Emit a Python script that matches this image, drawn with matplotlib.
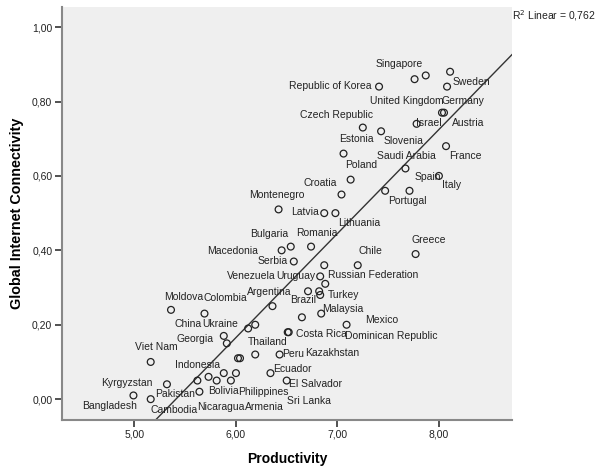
import matplotlib
matplotlib.use("Agg")
import matplotlib.pyplot as plt
import numpy as np

plt.rcParams['font.family'] = ['Liberation Sans', 'DejaVu Sans']

# point values
productivity = [7.41, 7.76, 7.87, 8.11, 8.08, 8.03, 8.05, 7.78, 7.25, 7.43,
                8.07, 7.06, 7.67, 8.00, 7.13, 7.04, 7.47, 7.71, 6.42, 6.87,
                6.98, 6.54, 6.74, 6.45, 6.57, 7.77, 6.87, 7.20, 6.83, 6.88,
                6.71, 6.82, 6.83, 6.36, 5.36, 5.69, 6.84, 6.65, 7.09, 6.12,
                6.19, 6.51, 6.52, 5.88, 5.91, 5.16, 6.02, 6.04, 6.19, 6.43,
                6.34, 6.50, 5.32, 4.99, 5.16, 5.62, 5.64, 5.73, 5.81, 5.88,
                5.95, 6.00]
connectivity = [0.84, 0.86, 0.87, 0.88, 0.84, 0.77, 0.77, 0.74, 0.73, 0.72,
                0.68, 0.66, 0.62, 0.60, 0.59, 0.55, 0.56, 0.56, 0.51, 0.50,
                0.50, 0.41, 0.41, 0.40, 0.37, 0.39, 0.36, 0.36, 0.33, 0.31,
                0.29, 0.29, 0.28, 0.25, 0.24, 0.23, 0.23, 0.22, 0.20, 0.19,
                0.20, 0.18, 0.18, 0.17, 0.15, 0.10, 0.11, 0.11, 0.12, 0.12,
                0.07, 0.05, 0.04, 0.01, 0.00, 0.05, 0.02, 0.06, 0.05, 0.07,
                0.05, 0.07]

# country labels and where they sit on the chart
label_names = ['Singapore', 'Republic of Korea', 'United Kingdom', 'Germany', 'Sweden',
               'Czech Republic', 'Israel', 'Austria', 'Estonia', 'Slovenia',
               'Saudi Arabia', 'France', 'Poland', 'Spain', 'Italy', 'Croatia',
               'Portugal', 'Montenegro', 'Latvia', 'Lithuania', 'Bulgaria', 'Romania',
               'Greece', 'Macedonia', 'Serbia', 'Chile', 'Venezuela', 'Uruguay',
               'Russian Federation', 'Moldova', 'Colombia', 'Argentina', 'Brazil',
               'Turkey', 'Malaysia', 'Mexico', 'China', 'Ukraine', 'Georgia',
               'Costa Rica', 'Dominican Republic', 'Thailand', 'Viet Nam', 'Peru',
               'Kazakhstan', 'Indonesia', 'Ecuador', 'Kyrgyzstan', 'El Salvador',
               'Pakistan', 'Bolivia', 'Philippines', 'Sri Lanka', 'Bangladesh',
               'Cambodia', 'Nicaragua', 'Armenia']
label_pos = [(7.609, 0.901), (6.926, 0.841), (7.680, 0.802), (8.236, 0.802), (8.322, 0.853),
             (6.992, 0.763), (7.904, 0.741), (8.289, 0.741), (7.189, 0.698), (7.648, 0.694),
             (7.682, 0.654), (8.256, 0.654), (7.238, 0.629), (7.895, 0.596), (8.125, 0.575),
             (6.834, 0.581), (7.688, 0.532), (6.401, 0.548), (6.683, 0.503), (7.215, 0.474),
             (6.325, 0.443), (6.795, 0.447), (7.901, 0.427), (5.967, 0.398), (6.362, 0.372),
             (7.327, 0.398), (6.155, 0.330), (6.591, 0.331), (7.347, 0.334), (5.488, 0.275),
             (5.899, 0.272), (6.325, 0.288), (6.663, 0.266), (7.057, 0.281), (7.057, 0.241),
             (7.435, 0.212), (5.530, 0.202), (5.842, 0.202), (5.596, 0.162), (6.837, 0.174),
             (7.534, 0.169), (6.312, 0.153), (5.212, 0.140), (6.565, 0.122), (6.946, 0.124),
             (5.623, 0.092), (6.559, 0.081), (4.923, 0.044), (6.788, 0.040), (5.399, 0.014),
             (5.875, 0.023), (6.269, 0.020), (6.722, -0.005), (4.752, -0.018), (5.392, -0.030),
             (5.852, -0.021), (6.283, -0.022)]

x_ticks = [5, 6, 7, 8]
y_ticks = [0.0, 0.2, 0.4, 0.6, 0.8, 1.0]

fig = plt.figure(figsize=(5.98, 4.72), dpi=100)
ax = fig.add_axes([62/598, 52/472, 450/598, 413/472])
ax.set_facecolor('#efefef')

ax.scatter(productivity, connectivity, s=24, facecolors='none',
           edgecolors='#222222', linewidths=0.9, zorder=3)

# linear fit
slope, icpt = np.polyfit(productivity, connectivity, 1)
xl = np.array([4.0, 9.0])
ax.plot(xl, icpt + slope * xl, color='#333333', lw=1.0, zorder=2)

for name, (lx, ly) in zip(label_names, label_pos):
    ax.text(lx, ly, name, fontsize=7.5, ha='center', va='center',
            color='#222222', zorder=4)

ax.set_xlim(4.286, 8.72)
ax.set_ylim(-0.056, 1.054)
ax.set_xticks(x_ticks)
ax.set_yticks(y_ticks)
ax.set_xticklabels([f'{v:.2f}'.replace('.', ',') for v in x_ticks])
ax.set_yticklabels([f'{v:.2f}'.replace('.', ',') for v in y_ticks])
ax.tick_params(labelsize=7.5, length=5, width=1.2, color='#333333',
               labelcolor='#222222', pad=2)

for side in ['top', 'right']:
    ax.spines[side].set_visible(False)
for side in ['left', 'bottom']:
    ax.spines[side].set_color('#888888')
    ax.spines[side].set_linewidth(1.5)

ax.set_xlabel('Productivity', fontsize=10, fontweight='bold', labelpad=9)
ax.set_ylabel('Global Internet Connectivity', fontsize=10.4, fontweight='bold', labelpad=6)

fig.text(512/598, 1 - 16/472, 'R$^2$ Linear = 0,762', fontsize=7.5,
         ha='left', va='center', color='#222222')

fig.savefig('out.png', dpi=100)
